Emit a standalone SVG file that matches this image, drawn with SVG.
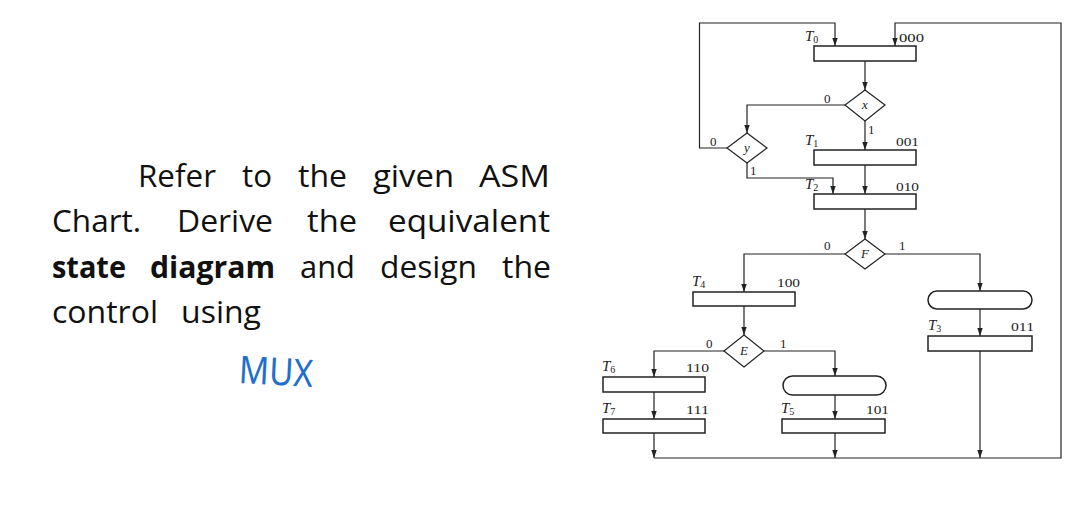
<svg xmlns="http://www.w3.org/2000/svg" width="1086" height="519" viewBox="0 0 1086 519">
<defs>
<marker id="ah" viewBox="0 0 8 8" refX="8" refY="4" markerWidth="8" markerHeight="8" markerUnits="userSpaceOnUse" orient="auto">
<path d="M0,1.3 L8,4 L0,6.7 Z" fill="#222"/>
</marker>
<style>
.ar{fill:none;stroke:#222;stroke-width:1.2;marker-end:url(#ah)}
.bx{fill:#fff;stroke:#222;stroke-width:1.5}
.dm{fill:#fff;stroke:#222;stroke-width:1.2}
.t{font-family:"Liberation Serif",serif;font-style:italic;font-size:15px;fill:#222}
.s{font-style:normal;font-size:10px}
.c{font-family:"Liberation Serif",serif;font-size:13px;fill:#222}
.d{font-family:"Liberation Serif",serif;font-style:italic;font-size:13px;fill:#222;text-anchor:middle}
.q{font-family:"Open Sans",sans-serif;font-size:31px;fill:#111}
.b{font-weight:bold}
</style>
</defs>
<rect width="1086" height="519" fill="#fff"/>
<g id="question">
<text class="q" x="138" y="187" textLength="78" lengthAdjust="spacingAndGlyphs">Refer</text>
<text class="q" x="242" y="187" textLength="30" lengthAdjust="spacingAndGlyphs">to</text>
<text class="q" x="298" y="187" textLength="49" lengthAdjust="spacingAndGlyphs">the</text>
<text class="q" x="373" y="187" textLength="81" lengthAdjust="spacingAndGlyphs">given</text>
<text class="q" x="479" y="187" textLength="71" lengthAdjust="spacingAndGlyphs">ASM</text>
<text class="q" x="52" y="232" textLength="89" lengthAdjust="spacingAndGlyphs">Chart.</text>
<text class="q" x="177" y="232" textLength="96" lengthAdjust="spacingAndGlyphs">Derive</text>
<text class="q" x="307" y="232" textLength="50" lengthAdjust="spacingAndGlyphs">the</text>
<text class="q" x="388" y="232" textLength="162" lengthAdjust="spacingAndGlyphs">equivalent</text>
<text class="q b" x="52" y="278" textLength="74" lengthAdjust="spacingAndGlyphs">state</text>
<text class="q b" x="150" y="278" textLength="125" lengthAdjust="spacingAndGlyphs">diagram</text>
<text class="q" x="300" y="278" textLength="55" lengthAdjust="spacingAndGlyphs">and</text>
<text class="q" x="380" y="278" textLength="97" lengthAdjust="spacingAndGlyphs">design</text>
<text class="q" x="502" y="278" textLength="49" lengthAdjust="spacingAndGlyphs">the</text>
<text class="q" x="52" y="323" textLength="106" lengthAdjust="spacingAndGlyphs">control</text>
<text class="q" x="181" y="323" textLength="80" lengthAdjust="spacingAndGlyphs">using</text>
<text x="239" y="385" font-family="'Noto Sans',sans-serif" font-size="38" fill="#1f6fcc" textLength="74" lengthAdjust="spacingAndGlyphs" transform="rotate(3 276 370)">MUX</text>
</g>
<g id="connectors">
<path class="ar" d="M727,148 H699.5 V23 H835 V46"/>
<path class="ar" d="M654,458 H1061 V23 H895 V46"/>
<path class="ar" d="M865,61 V90"/>
<path class="ar" d="M845,105 H747 V133"/>
<path class="ar" d="M747,163 V178 H833 V194"/>
<path class="ar" d="M865,121 V150"/>
<path class="ar" d="M865,165 V194"/>
<path class="ar" d="M865,209 V239"/>
<path class="ar" d="M845,254 H744 V292"/>
<path class="ar" d="M885,254 H980 V291"/>
<path class="ar" d="M744,306 V335"/>
<path class="ar" d="M724,351 H654 V377"/>
<path class="ar" d="M764,351 H835 V376"/>
<path class="ar" d="M654,392 V419"/>
<path class="ar" d="M654,433 V458"/>
<path class="ar" d="M835,395 V419"/>
<path class="ar" d="M835,433 V458"/>
<path class="ar" d="M980,309 V336"/>
<path class="ar" d="M980,351 V458"/>
</g>
<g id="T0"><rect class="bx" x="814" y="46" width="102" height="15"/><text class="t" x="805" y="41">T<tspan class="s" dy="2">0</tspan></text><text class="c" x="899" y="42" textLength="25" lengthAdjust="spacingAndGlyphs">000</text></g>
<g id="dx"><path class="dm" d="M865,90 L885,105 L865,121 L845,105 Z"/><text class="d" x="865" y="109">x</text><text class="c" x="824" y="103">0</text><text class="c" x="868" y="134">1</text></g>
<g id="dy"><path class="dm" d="M747,133 L767,148 L747,163 L727,148 Z"/><text class="d" x="747" y="152">y</text><text class="c" x="710" y="146">0</text><text class="c" x="750" y="175">1</text></g>
<g id="T1"><rect class="bx" x="814" y="150" width="102" height="15"/><text class="t" x="805" y="145">T<tspan class="s" dy="2">1</tspan></text><text class="c" x="896" y="146" textLength="23" lengthAdjust="spacingAndGlyphs">001</text></g>
<g id="T2"><rect class="bx" x="814" y="194" width="102" height="15"/><text class="t" x="805" y="189">T<tspan class="s" dy="2">2</tspan></text><text class="c" x="896" y="191" textLength="23" lengthAdjust="spacingAndGlyphs">010</text></g>
<g id="dF"><path class="dm" d="M865,239 L885,254 L865,269 L845,254 Z"/><text class="d" x="865" y="258">F</text><text class="c" x="824" y="250">0</text><text class="c" x="899" y="250">1</text></g>
<g id="T4"><rect class="bx" x="693" y="292" width="102" height="14"/><text class="t" x="692" y="286">T<tspan class="s" dy="2">4</tspan></text><text class="c" x="777" y="287" textLength="23" lengthAdjust="spacingAndGlyphs">100</text></g>
<g id="cF"><rect class="bx" x="928" y="291" width="104" height="18" rx="9"/></g>
<g id="T3"><rect class="bx" x="928" y="336" width="104" height="15"/><text class="t" x="928" y="330">T<tspan class="s" dy="2">3</tspan></text><text class="c" x="1011" y="331" textLength="23" lengthAdjust="spacingAndGlyphs">011</text></g>
<g id="dE"><path class="dm" d="M744,335 L764,351 L744,367 L724,351 Z"/><text class="d" x="744" y="355">E</text><text class="c" x="706" y="348">0</text><text class="c" x="780" y="348">1</text></g>
<g id="T6"><rect class="bx" x="603" y="377" width="102" height="15"/><text class="t" x="602" y="371">T<tspan class="s" dy="2">6</tspan></text><text class="c" x="686" y="372" textLength="23" lengthAdjust="spacingAndGlyphs">110</text></g>
<g id="T7"><rect class="bx" x="603" y="419" width="102" height="14"/><text class="t" x="602" y="413">T<tspan class="s" dy="2">7</tspan></text><text class="c" x="686" y="414" textLength="23" lengthAdjust="spacingAndGlyphs">111</text></g>
<g id="cE"><rect class="bx" x="783" y="376" width="103" height="19" rx="9.5"/></g>
<g id="T5"><rect class="bx" x="782" y="419" width="103" height="14"/><text class="t" x="781" y="413">T<tspan class="s" dy="2">5</tspan></text><text class="c" x="866" y="414" textLength="23" lengthAdjust="spacingAndGlyphs">101</text></g>
</svg>
